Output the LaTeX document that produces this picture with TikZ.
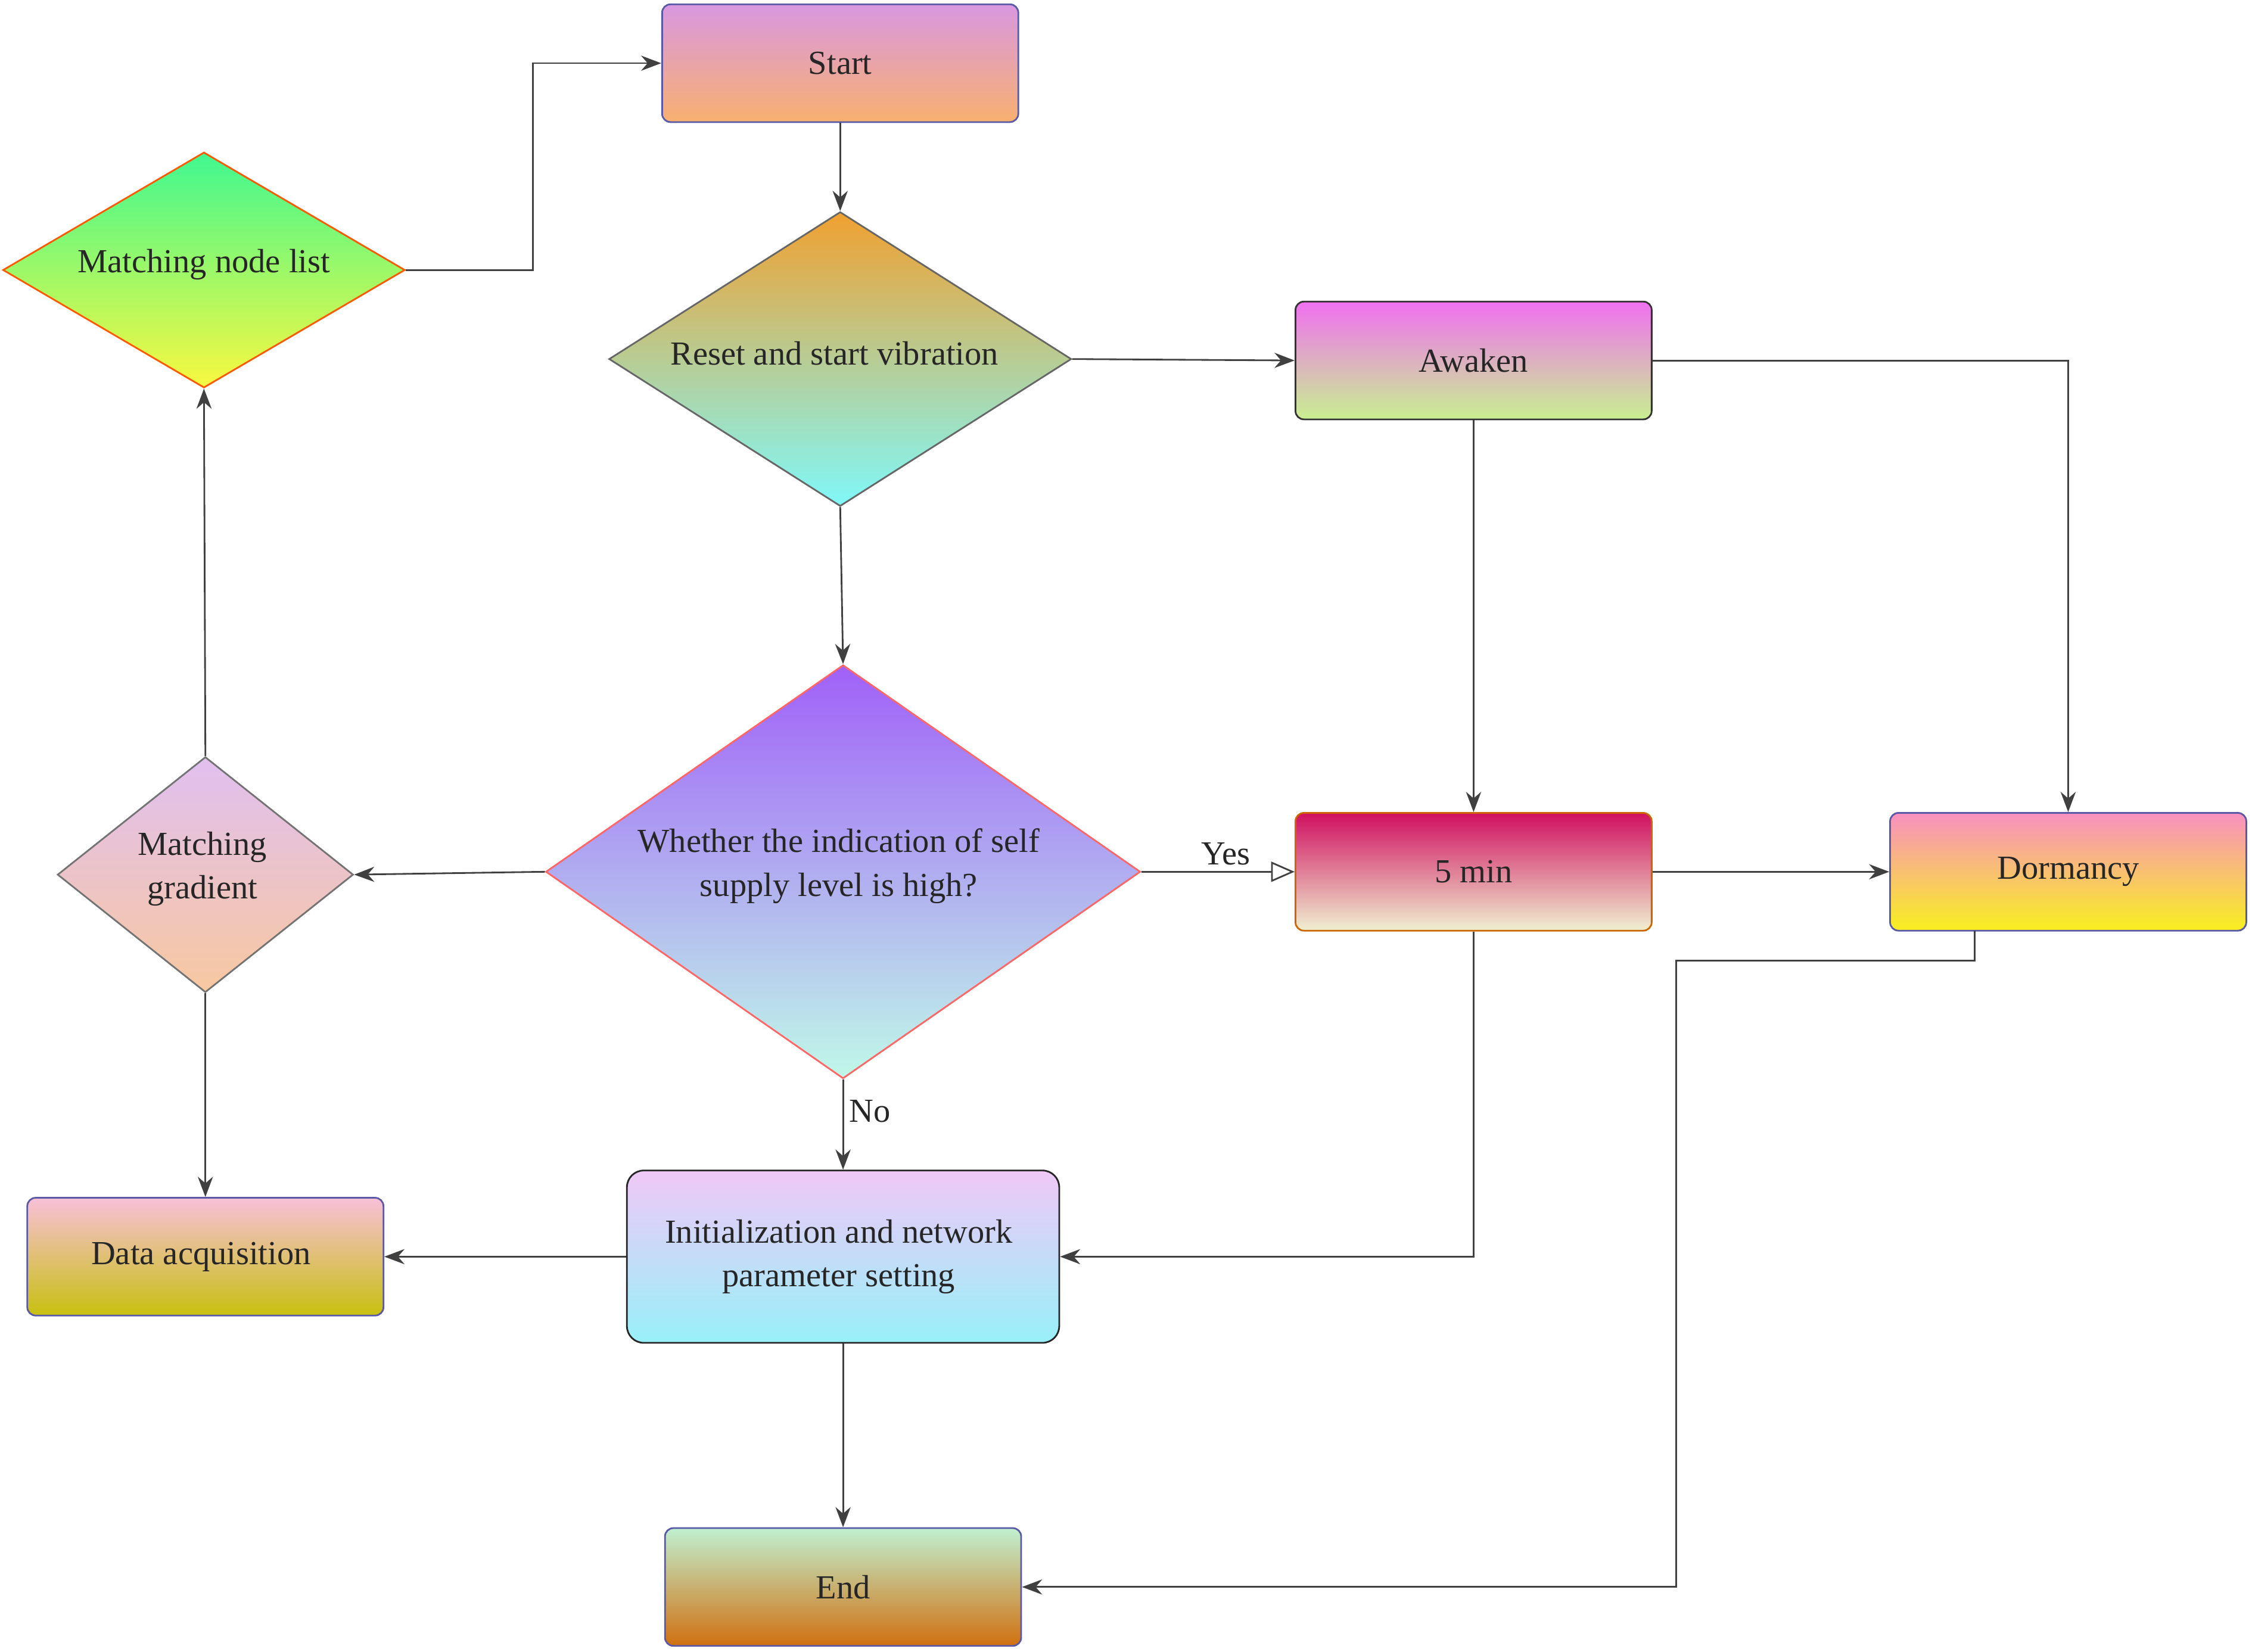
\documentclass[tikz,border=0pt]{standalone}
\usepackage{fontspec}
\setmainfont{Liberation Serif}
\usetikzlibrary{shapes.geometric,arrows.meta}
\begin{document}
\begin{tikzpicture}[x=0.03cm,y=-0.03cm,
  box/.style={rectangle,rounded corners=5pt,minimum width=7.44cm,minimum height=2.46cm,line width=1pt,inner sep=0pt},
  dia/.style={diamond,inner sep=0pt,line width=1pt},
  txt/.style={font=\fontsize{20}{26}\selectfont,align=center,text=black!85},
  ln/.style={draw=black!75,line width=1pt},
  arr/.style={ln,-{Stealth[length=12pt,width=9pt]}}]
\useasboundingbox (0,0) rectangle (1568,1150);
\node[box,draw=blue!30!gray,top color={rgb,255:red,216;green,152;blue,224},bottom color={rgb,255:red,248;green,176;blue,112}] (start) at (585,44) {};
\node[txt] at (start) {Start};
\node[dia,draw=orange!70!red,minimum width=8.4cm,minimum height=4.92cm,top color={rgb,255:red,64;green,248;blue,144},bottom color={rgb,255:red,248;green,248;blue,64}] (mnl) at (142,188) {};
\node[txt] at (142,184) {Matching node list};
\node[dia,draw=black!60,minimum width=9.66cm,minimum height=6.15cm,top color={rgb,255:red,240;green,160;blue,48},bottom color={rgb,255:red,128;green,248;blue,248}] (reset) at (585,250) {};
\node[txt] at (581,246) {Reset and start vibration};
\node[box,draw=black!80,top color={rgb,255:red,240;green,112;blue,240},bottom color={rgb,255:red,200;green,240;blue,144}] (awaken) at (1026,251) {};
\node[txt] at (awaken) {Awaken};
\node[dia,draw=red!60,minimum width=12.42cm,minimum height=8.64cm,top color={rgb,255:red,160;green,96;blue,248},bottom color={rgb,255:red,192;green,248;blue,232}] (whether) at (587,607) {};
\node[txt] at (584,603) {Whether the indication of self\\supply level is high?};
\node[dia,draw=black!55,minimum width=6.18cm,minimum height=4.92cm,top color={rgb,255:red,224;green,192;blue,240},bottom color={rgb,255:red,248;green,200;blue,160}] (mg) at (143,609) {};
\node[txt] at (141,605) {Matching\\gradient};
\node[box,draw=orange!80!black,top color={rgb,255:red,208;green,16;blue,96},bottom color={rgb,255:red,240;green,240;blue,208}] (five) at (1026,607) {};
\node[txt] at (five) {5 min};
\node[box,draw=blue!30!gray,top color={rgb,255:red,248;green,144;blue,192},bottom color={rgb,255:red,248;green,240;blue,32}] (dorm) at (1440,607) {};
\node[txt] at (dorm) {Dormancy};
\node[box,draw=blue!30!gray,top color={rgb,255:red,248;green,192;blue,216},bottom color={rgb,255:red,200;green,192;blue,16}] (data) at (143,875) {};
\node[txt] at (140,875) {Data acquisition};
\node[box,draw=black!85,minimum width=9.03cm,minimum height=3.6cm,rounded corners=10pt,top color={rgb,255:red,240;green,200;blue,248},bottom color={rgb,255:red,152;green,240;blue,248}] (init) at (587,875) {};
\node[txt] at (584,875) {Initialization and network\\parameter setting};
\node[box,draw=blue!30!gray,top color={rgb,255:red,192;green,240;blue,208},bottom color={rgb,255:red,208;green,112;blue,16}] (endn) at (587,1105) {};
\node[txt] at (endn) {End};
\coordinate (d1) at (1375,648);
\draw[arr] (mnl.east) -| (371,120) |- (start.west);
\draw[arr] (start.south) -- (reset.north);
\draw[arr] (reset.east) -- (awaken.west);
\draw[arr] (reset.south) -- (whether.north);
\draw[arr] (awaken.south) -- (five.north);
\draw[arr] (awaken.east) -| (dorm.north);
\draw[ln,-{Triangle[open,length=14pt,width=12pt]}] (whether.east) -- node[above,txt,pos=0.55]{Yes} (five.west);
\draw[arr] (five.east) -- (dorm.west);
\draw[arr] (whether.west) -- (mg.east);
\draw[arr] (mg.north) -- (mnl.south);
\draw[arr] (mg.south) -- (data.north);
\draw[arr] (whether.south) -- node[right,txt,pos=0.35]{No} (init.north);
\draw[arr] (init.west) -- (data.east);
\draw[arr] (five.south) |- (init.east);
\draw[arr] (d1) -- (1375,669) -| (1167,900) |- (endn.east);
\draw[arr] (init.south) -- (endn.north);
\end{tikzpicture}
\end{document}
